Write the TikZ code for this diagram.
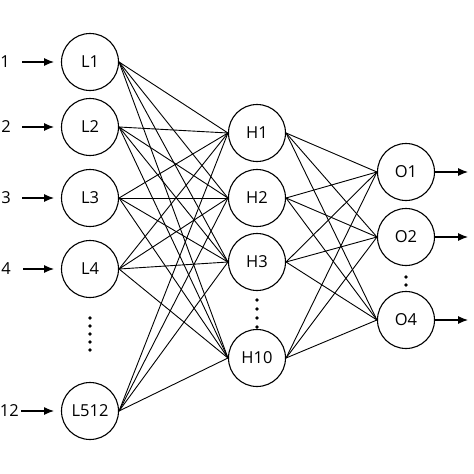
\documentclass[tikz,border=0pt]{standalone}
\usepackage{fontspec}
\setmainfont{Open Sans}
\usetikzlibrary{arrows.meta}
\begin{document}
\begin{tikzpicture}[x=1pt,y=-1pt,
  neuron/.style={draw,circle,line width=1.1pt,minimum size=57pt,inner sep=0pt,font=\fontsize{16.5}{19}\selectfont},
  conn/.style={line width=0.9pt},
  io/.style={line width=1.1pt,-{Latex[length=10pt,width=8pt]}},
  lab/.style={anchor=east,inner sep=0pt,font=\fontsize{16.5}{19}\selectfont},
  dot/.style={fill,circle,inner sep=0pt,minimum size=3.8pt}]
\useasboundingbox (0,0) rectangle (474,474);
% input layer
\node[neuron] (L1) at (90,62) {L1};
\node[neuron] (L2) at (90,127) {L2};
\node[neuron] (L3) at (90,198) {L3};
\node[neuron] (L4) at (90,269) {L4};
\node[neuron] (L512) at (90,411) {L512};
% hidden layer
\node[neuron] (H1) at (257,133) {H1};
\node[neuron] (H2) at (257,198) {H2};
\node[neuron] (H3) at (257,262) {H3};
\node[neuron] (H10) at (257,358) {H10};
% output layer
\node[neuron] (O1) at (406,172) {O1};
\node[neuron] (O2) at (406,237) {O2};
\node[neuron] (O4) at (406,320) {O4};
% dots
\foreach \i [count=\k] in {318,326,334,342,350} \node[dot] (dl\k) at (90,\i) {};
\foreach \i [count=\k] in {300,309,318,327} \node[dot] (dh\k) at (257,\i) {};
\foreach \i [count=\k] in {277,285} \node[dot] (do\k) at (406,\i) {};
% connections
\foreach \a in {L1,L2,L3,L4,L512}
  \foreach \b in {H1,H2,H3,H10}
    \draw[conn] (\a.east) -- (\b.west);
\foreach \a in {H1,H2,H3,H10}
  \foreach \b in {O1,O2,O4}
    \draw[conn] (\a.east) -- (\b.west);
% inputs
\node[lab] (x1) at (10,62) {1};
\node[lab] (x2) at (11,127) {2};
\node[lab] (x3) at (11,198) {3};
\node[lab] (x4) at (11,269) {4};
\node[lab] (x5) at (19,411) {12};
\coordinate (a1) at (22,62);
\coordinate (a2) at (22,127);
\coordinate (a3) at (22,198);
\coordinate (a4) at (23,269);
\coordinate (a5) at (21,411);
\coordinate (e1) at (54,62);
\coordinate (e2) at (54,127);
\coordinate (e3) at (54,198);
\coordinate (e4) at (54,269);
\coordinate (e5) at (54,411);
\foreach \k in {1,...,5} \draw[io] (a\k) -- (e\k);
% outputs
\coordinate (o1) at (468,172);
\coordinate (o2) at (468,237);
\coordinate (o4) at (468,320);
\draw[io] (O1.east) -- (o1);
\draw[io] (O2.east) -- (o2);
\draw[io] (O4.east) -- (o4);
\end{tikzpicture}
\end{document}
